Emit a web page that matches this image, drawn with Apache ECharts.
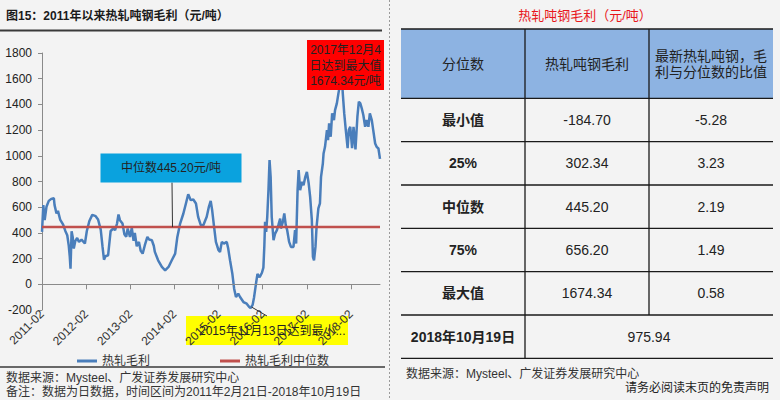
<!DOCTYPE html>
<html><head><meta charset="utf-8">
<script src="https://cdn.jsdelivr.net/npm/echarts@6/dist/echarts.min.js"></script>
<style>html,body{margin:0;padding:0;background:#f3f3f3}#c{width:780px;height:400px}</style>
</head><body><div id="c"></div>
<script>
// ---- data ----
const dates = [
'2011-02-21','2011-03-04','2011-03-15','2011-03-30','2011-04-18','2011-05-09','2011-05-30','2011-06-05','2011-06-21','2011-07-03',
'2011-07-21','2011-08-15','2011-09-02','2011-09-18','2011-09-30','2011-10-09','2011-10-15','2011-10-24','2011-11-02','2011-11-11',
'2011-11-24','2011-12-09','2011-12-24','2012-01-14','2012-02-11','2012-02-27','2012-03-19','2012-04-12','2012-05-10','2012-05-30',
'2012-06-21','2012-07-06','2012-07-18','2012-07-30','2012-08-21','2012-09-11','2012-10-03','2012-10-18','2012-11-03','2012-11-15',
'2012-11-27','2012-12-18','2013-01-03','2013-01-18','2013-01-30','2013-02-18','2013-03-05','2013-03-20','2013-03-30','2013-04-15',
'2013-05-03','2013-05-18','2013-06-03','2013-06-21','2013-07-12','2013-07-27','2013-08-18','2013-09-03','2013-09-12','2013-10-09',
'2013-11-09','2013-12-06','2014-01-03','2014-01-30','2014-02-27','2014-03-17','2014-04-09','2014-05-06','2014-05-27','2014-06-15',
'2014-07-06','2014-07-27','2014-08-18','2014-09-05','2014-09-27','2014-10-18','2014-11-15','2014-12-03','2014-12-18','2014-12-30',
'2015-01-15','2015-01-30','2015-02-21','2015-03-05','2015-03-20','2015-04-06','2015-04-30','2015-05-12','2015-05-27','2015-06-15',
'2015-06-30','2015-07-15','2015-08-03','2015-08-18','2015-09-15','2015-10-12','2015-11-02','2015-11-13','2015-11-30','2015-12-12',
'2015-12-27','2016-01-09','2016-01-27','2016-02-15','2016-02-27','2016-03-06','2016-03-12','2016-03-21','2016-03-30','2016-04-09',
'2016-04-18','2016-04-27','2016-05-06','2016-05-21','2016-06-03','2016-06-18','2016-06-30','2016-07-15','2016-07-21','2016-08-06',
'2016-08-18','2016-08-30','2016-09-11','2016-09-27','2016-10-12','2016-11-02','2016-11-15','2016-11-24','2016-12-06','2016-12-15',
'2016-12-27','2017-01-12','2017-01-24','2017-02-08','2017-02-21','2017-03-08','2017-03-20','2017-04-03','2017-04-12','2017-04-21',
'2017-05-03','2017-05-12','2017-05-27','2017-06-09','2017-06-18','2017-07-03','2017-07-09','2017-07-21','2017-08-06','2017-08-15',
'2017-08-24','2017-09-06','2017-09-18','2017-10-03','2017-10-12','2017-10-27','2017-11-09','2017-11-24','2017-12-04','2017-12-15',
'2017-12-27','2018-01-09','2018-01-24','2018-02-03','2018-02-15','2018-03-02','2018-03-14','2018-03-30','2018-04-15','2018-04-27',
'2018-05-09','2018-05-21','2018-06-03','2018-06-18','2018-06-30','2018-07-15','2018-07-27','2018-08-12','2018-08-24','2018-09-09',
'2018-09-21','2018-10-06','2018-10-19'
];
const margins = [
408,616,499,603,649,665,670,616,551,571,
504,465,415,382,304,213,122,413,369,278,
338,361,330,348,317,415,493,540,530,504,
426,291,192,218,226,415,434,421,473,543,
499,473,390,369,434,369,439,338,400,296,
330,260,239,304,369,348,343,300,252,187,
135,109,135,187,239,369,473,551,629,701,
655,660,629,525,460,460,525,603,649,577,
447,330,265,252,330,317,330,278,187,83,
-34,-99,-73,-99,-138,-151,-177,-184.70,-160,-100,
0,80,55,90,130,300,486,408,525,733,
966,836,525,343,395,421,460,512,434,486,
551,460,421,330,291,291,421,317,733,888,
733,797,771,836,875,784,680,499,213,187,
291,447,590,629,836,940,1018,1070,1200,1122,
1252,1148,1330,1278,1356,1408,1486,1564,1674.34,1486,
1330,1200,1060,1200,1226,1060,1226,1050,1304,1421,
1408,1369,1317,1226,1278,1226,1330,1278,1200,1096,
1070,1057,975.94
];
const medianValue = 445.20;
const startDate = '2011-02-21';
const endDate = '2018-10-19';
const maxDate = '2017-12-04';
const minDate = '2015-11-13';
const tickLabels = ['2011-02','2012-02','2013-02','2014-02','2015-02','2016-02','2017-02','2018-02'];
const seriesNames = ['热轧毛利','热轧毛利中位数'];

const tableTitle = '热轧吨钢毛利（元/吨）';
const tableHeaders = ['分位数','热轧吨钢毛利','最新热轧吨钢，毛\n利与分位数的比值'];
const rowLabels = ['最小值','25%','中位数','75%','最大值'];
const rowValues = [-184.70, 302.34, 445.20, 656.20, 1674.34];
const rowRatios = [-5.28, 3.23, 2.19, 1.49, 0.58];
const latestLabel = '2018年10月19日';
const latestValue = 975.94;

// ---- helpers ----
const FONT = '"Liberation Sans","Noto Sans CJK SC",sans-serif';
function monthsFrom(d){
  const p = d.split('-').map(Number), s = startDate.split('-').map(Number);
  return (Date.UTC(p[0],p[1]-1,p[2]) - Date.UTC(s[0],s[1]-1,s[2]))/864e5/30.4375;
}
const xMax = monthsFrom(endDate);
const lineData = dates.map((d,i)=>[monthsFrom(d), margins[i]]);
const tickValues = tickLabels.map((_,i)=>i*12);

function txt(x,y,text,opt){
  opt = opt||{};
  return {type:'text', x:x, y:y, z:opt.z||50, style:{text:text, fill:opt.color||'#222',
    font:(opt.weight||'normal')+' '+(opt.size||12)+'px '+FONT, textAlign:opt.align||'left',
    textVerticalAlign:'middle', lineHeight:opt.lh||16}};
}
function ln(x1,y1,x2,y2,color,w,dash,z){
  return {type:'line', z:z||40, shape:{x1:x1,y1:y1,x2:x2,y2:y2}, style:{stroke:color, lineWidth:w, lineDash:dash||null}};
}
function rect(x,y,w,h,fill,z){
  return {type:'rect', z:z||30, shape:{x:x,y:y,width:w,height:h}, style:{fill:fill}};
}

// ---- static graphic (layout) ----
const g = [];
g.push(txt(6,16,'图15：2011年以来热轧吨钢毛利（元/吨）',{weight:'bold',size:12,color:'#1a1a1a'}));
g.push(ln(0,30.5,382,30.5,'#3a3a3a',2));
g.push(ln(0,367,385,367,'#3a3a3a',1.5));
g.push(txt(6,378,'数据来源：Mysteel、广发证券发展研究中心',{color:'#333'}));
g.push(txt(6,392,'备注：数据为日数据，时间区间为2011年2月21日-2018年10月19日',{color:'#333'}));
g.push(ln(389.5,0,389.5,400,'#9a9a9a',1,[2,2]));
// annotations
g.push(rect(307,40,77,50,'#ff0000',100));
g.push(txt(345.5,50,'2017年12月4',{align:'center',z:101}));
g.push(txt(345.5,65.5,'日达到最大值',{align:'center',z:101}));
g.push(txt(345.5,81,'1674.34元/吨',{align:'center',z:101}));
g.push(rect(100.5,153.5,141,29,'#0aa2de',100));
g.push(txt(171,168,'中位数445.20元/吨',{align:'center',z:101}));
g.push(rect(186,316,162,29,'#ffff00',1));
g.push(txt(199,331,'2015年11月13日达到最小...',{z:2}));

// right panel table
const tx0=401, tx1=773, cx=[401,525,649,773];
const ry=[29,98.3,141.7,185,228.3,271.7,315,358.3];
g.push(txt(585,15,tableTitle,{align:'center',size:13,color:'#e8161b'}));
g.push(rect(tx0,ry[0],tx1-tx0,ry[1]-ry[0],'#8db3e2',20));
ry.forEach(y=>g.push(ln(tx0,y,tx1,y,'#1a1a1a',1.3)));
g.push(ln(cx[1],ry[0],cx[1],ry[7],'#1a1a1a',1.3));
g.push(ln(cx[2],ry[0],cx[2],ry[6],'#1a1a1a',1.3));
const colC=[(cx[0]+cx[1])/2,(cx[1]+cx[2])/2,(cx[2]+cx[3])/2];
tableHeaders.forEach((h,i)=>g.push(txt(colC[i], (ry[0]+ry[1])/2, h, {align:'center',size:14})));
rowLabels.forEach((lab,i)=>{
  const y=(ry[i+1]+ry[i+2])/2;
  g.push(txt(colC[0],y,lab,{align:'center',size:14,weight:'bold'}));
  g.push(txt(colC[1],y,rowValues[i].toFixed(2),{align:'center',size:14}));
  g.push(txt(colC[2],y,rowRatios[i].toFixed(2),{align:'center',size:14}));
});
g.push(txt(colC[0],(ry[6]+ry[7])/2,latestLabel,{align:'center',size:14,weight:'bold'}));
g.push(txt((cx[1]+cx[3])/2,(ry[6]+ry[7])/2,latestValue.toFixed(2),{align:'center',size:14}));
g.push(txt(406,374,'数据来源：Mysteel、广发证券发展研究中心',{color:'#333'}));
g.push(txt(769,388,'请务必阅读末页的免责声明',{align:'right',color:'#222'}));

const chart = echarts.init(document.getElementById('c'), null, {renderer:'svg'});
chart.setOption({
  backgroundColor:'#f3f3f3',
  animation:false,
  textStyle:{fontFamily:FONT},
  grid:{left:42,right:400,top:53,bottom:90,containLabel:false,outerBoundsMode:'none'},
  legend:{left:72,top:350,itemWidth:20,itemHeight:3,itemGap:70,icon:'rect',
    textStyle:{fontSize:12,color:'#333',fontFamily:FONT},data:seriesNames},
  xAxis:{type:'value',min:0,max:xMax,interval:12,z:50,
    axisLine:{onZero:true,lineStyle:{color:'#8a8a8a',width:1}},
    axisTick:{show:true,length:5,lineStyle:{color:'#8a8a8a'},customValues:tickValues},
    axisLabel:{rotate:45,fontSize:12,color:'#333',margin:2,customValues:tickValues,
      interval:0,hideOverlap:false,showMinLabel:true,showMaxLabel:true,
      formatter:v=>{const i=Math.round(v/12);return tickLabels[i]||'';}},
    splitLine:{show:false}},
  yAxis:{type:'value',min:-200,max:1800,interval:200,
    axisLine:{show:true,lineStyle:{color:'#8a8a8a',width:1}},
    axisTick:{show:true,length:4,lineStyle:{color:'#8a8a8a'}},
    axisLabel:{fontSize:12,color:'#222',margin:10,formatter:v=>String(v)},
    splitLine:{show:false}},
  series:[
    {name:seriesNames[0],type:'line',data:lineData,symbol:'none',color:'#4a7ebb',
     lineStyle:{width:2.5,color:'#4a7ebb'},z:2,silent:true},
    {name:seriesNames[1],type:'line',data:[[0,medianValue],[xMax,medianValue]],symbol:'none',color:'#c0504d',
     lineStyle:{width:2.5,color:'#c0504d'},z:3,silent:true}
  ],
  graphic:{elements:g}
});
const pMed = chart.convertToPixel({gridIndex:0},[monthsFrom('2014-02-05'),medianValue]);
const pMin = chart.convertToPixel({gridIndex:0},[monthsFrom(minDate),-184.70]);
chart.setOption({graphic:{elements:[
  {id:'leadMed',type:'line',z:99,shape:{x1:172,y1:182.5,x2:pMed[0],y2:pMed[1]},style:{stroke:'#333',lineWidth:1}},
  {id:'leadMin',type:'line',z:99,shape:{x1:pMin[0]+1,y1:pMin[1]-1,x2:267,y2:316},style:{stroke:'#333',lineWidth:1}}
]}});
</script></body></html>
